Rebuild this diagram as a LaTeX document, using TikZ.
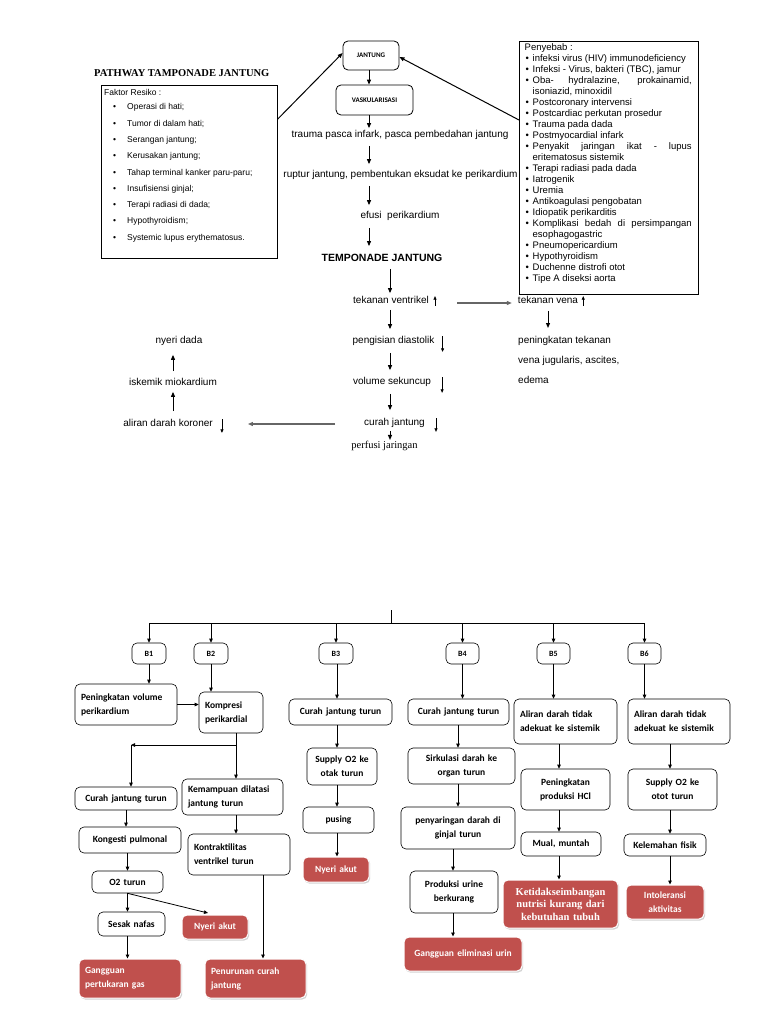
\documentclass[tikz,border=0pt]{standalone}
\usepackage{fontspec}
\setmainfont{Liberation Sans}
\newfontfamily\tmsfont{Liberation Serif}
\newfontfamily\calfont{Carlito}
\usetikzlibrary{arrows.meta,shadows,calc}
\definecolor{redbox}{HTML}{C0504D}
\newcommand\bx[7][wbox]{%
 \pgfmathsetmacro\bxw{#5-#3-12}%
 \pgfmathsetmacro\bxh{#6-#4}%
 \pgfmathsetmacro\bxx{(#3+#5)/2}%
 \pgfmathsetmacro\bxy{(#4+#6)/2}%
 \node[#1, text width=\bxw pt, minimum height=\bxh pt] (#2) at (\bxx,\bxy) {#7};}
\newcommand\fb{\hspace*{9pt}\makebox[14pt][l]{\textbullet}}
\newcommand\pb{\makebox[8pt][l]{\hspace{1pt}\textbullet}}
\newcommand\pc{\hspace*{8pt}}
\tikzset{
 tx/.style={inner sep=2pt, font=\fontsize{10}{12}\selectfont},
 tb/.style={draw, rounded corners=5pt, line width=0.8pt, inner sep=0pt, font=\calfont\bfseries\fontsize{7}{8}\selectfont},
 wbox/.style={draw, rounded corners=5pt, line width=0.6pt, fill=white, inner xsep=6pt, inner ysep=0pt, align=center, font=\calfont\bfseries\fontsize{9.5}{14}\selectfont},
 wboxl/.style={wbox, align=left},
 bbox/.style={wbox, font=\calfont\bfseries\fontsize{8}{10}\selectfont},
 rbox/.style={wbox, fill=redbox, draw=white, line width=1pt, text=white, drop shadow={opacity=0.35, shadow xshift=1.2pt, shadow yshift=-1.5pt}},
 rboxl/.style={rbox, align=left},
 rboxt/.style={rbox, font=\tmsfont\bfseries\fontsize{10.5}{12.5}\selectfont},
 arr/.style={line width=1pt, -{Triangle[length=5pt,width=4pt]}},
 garr/.style={line width=1.1pt, draw=black!60, -{Triangle[length=5pt,width=4pt]}},
 sarr/.style={line width=0.7pt, -{Triangle[length=3.5pt,width=3pt]}},
 barr/.style={line width=0.8pt, -{Triangle[length=4pt,width=3.5pt]}},
 bline/.style={line width=0.8pt}
}
\begin{document}
\begin{tikzpicture}[x=1pt,y=-1pt]
\fill[white] (0,0) rectangle (768,1024);
\useasboundingbox (0,0) rectangle (768,1024);

% ---------- top part ----------
\node[tx, anchor=base west, font=\tmsfont\bfseries\fontsize{10.5}{12}\selectfont] (ttl) at (92,77) {PATHWAY TAMPONADE JANTUNG};

\node[draw, line width=0.8pt, minimum width=176pt, minimum height=173pt, inner sep=0pt, anchor=north west] (fak) at (101,85) {};
\node[anchor=north west, inner sep=0pt, align=left, font=\fontsize{8.5}{16.3}\selectfont] (fakt) at (104,89.5) {Faktor Resiko :\\[-2.3pt]
\fb Operasi di hati;\\
\fb Tumor di dalam hati;\\
\fb Serangan jantung;\\
\fb Kerusakan jantung;\\
\fb Tahap terminal kanker paru-paru;\\
\fb Insufisiensi ginjal;\\
\fb Terapi radiasi di dada;\\
\fb Hypothyroidism;\\
\fb Systemic lupus erythematosus.};

\node[draw, line width=0.8pt, minimum width=179pt, minimum height=253pt, inner sep=0pt, anchor=north west] (pen) at (519,41) {};
\node[anchor=north west, inner sep=0pt, align=left, font=\fontsize{9.5}{11}\selectfont] (pent) at (524.5,43) {Penyebab :\\
\pb infeksi virus (HIV) immunodeficiency\\
\pb Infeksi - Virus, bakteri (TBC), jamur\\
\pb\makebox[159pt][s]{Oba- hydralazine, prokainamid,}\\
\pc isoniazid, minoxidil\\
\pb Postcoronary intervensi\\
\pb Postcardiac perkutan prosedur\\
\pb Trauma pada dada\\
\pb Postmyocardial infark\\
\pb\makebox[159pt][s]{Penyakit jaringan ikat - lupus}\\
\pc eritematosus sistemik\\
\pb Terapi radiasi pada dada\\
\pb Iatrogenik\\
\pb Uremia\\
\pb Antikoagulasi pengobatan\\
\pb Idiopatik perikarditis\\
\pb\makebox[159pt][s]{Komplikasi bedah di persimpangan}\\
\pc esophagogastric\\
\pb Pneumopericardium\\
\pb Hypothyroidism\\
\pb Duchenne distrofi otot\\
\pb Tipe A diseksi aorta};

\node[tb, minimum width=56pt, minimum height=29pt] (jt) at (371,55.5) {JANTUNG};
\node[tb, minimum width=77pt, minimum height=30pt] (vk) at (374.5,100) {VASKULARISASI};

\node[tx] (tr) at (400,135) {trauma pasca infark, pasca pembedahan jantung};
\node[tx] (ru) at (400.5,175) {ruptur jantung, pembentukan eksudat ke perikardium};
\node[tx] (ef) at (400,216) {efusi\ \ perikardium};
\node[tx, font=\bfseries\fontsize{10.5}{12}\selectfont] (tp) at (382,258) {TEMPONADE JANTUNG};
\node[tx] (tv) at (391,300) {tekanan ventrikel};
\node[tx] (tve) at (548,300) {tekanan vena};
\node[anchor=north west, inner sep=0pt, align=left, font=\fontsize{10}{20}\selectfont] (pt) at (518,336) {peningkatan tekanan\\vena jugularis, ascites,\\edema};
\node[tx] (pd) at (393.5,341) {pengisian diastolik};
\node[tx] (vs) at (392,382) {volume sekuncup};
\node[tx] (cj) at (394.5,423) {curah jantung};
\node[tx, font=\tmsfont\fontsize{10.5}{12}\selectfont] (pj) at (384.5,446) {perfusi jaringan};
\node[tx] (adk) at (168,423) {aliran darah koroner};
\node[tx] (ik) at (173,382) {iskemik miokardium};
\node[tx] (nd) at (179,341) {nyeri dada};

\coordinate (c1) at (369,0);
\coordinate (c2) at (390,0);
\coordinate (c3) at (173,0);

\draw[arr] ($(fak.north east)+(0,34)$) -- ($(jt.west)+(0,-2.5)$);
\draw[arr] ($(pen.north west)+(0,79)$) -- ($(jt.east)+(0,1.5)$);
\draw[arr] (jt.south -| c1) -- (vk.north -| c1);
\draw[arr] (vk.south -| c1) -- (tr.north -| c1);
\draw[arr] ($(tr.south -| c1)+(0,4)$) -- ($(ru.north -| c1)+(0,-4)$);
\draw[arr] ($(ru.south -| c1)+(0,4)$) -- ($(ef.north -| c1)+(0,-4)$);
\draw[arr] ($(ef.south -| c1)+(0,5)$) -- ($(tp.north -| c1)+(0,-6)$);
\draw[arr] ($(tp.south -| c2)+(0,5)$) -- ($(tv.north -| c2)+(0,-1)$);
\draw[arr] ($(tv.south -| c2)+(0,4)$) -- ($(pd.north -| c2)+(0,-5)$);
\draw[arr] ($(pd.south -| c2)+(0,5)$) -- ($(vs.north -| c2)+(0,-5)$);
\draw[arr] ($(vs.south -| c2)+(0,5)$) -- ($(cj.north -| c2)+(0,-6)$);
\draw[arr] ($(cj.south -| c2)+(0,1)$) -- ($(pj.north -| c2)+(0,1)$);

\draw[sarr] ([xshift=4pt]tv.south east) -- ([xshift=4pt,yshift=-2pt]tv.north east);
\draw[sarr] ([xshift=3pt]tve.south east) -- ([xshift=3pt,yshift=-2pt]tve.north east);
\draw[sarr] ([xshift=6pt,yshift=-2pt]pd.north east) -- ([xshift=6pt,yshift=-4pt]pd.south east);
\draw[sarr] ([xshift=9pt,yshift=-2pt]vs.north east) -- ([xshift=9pt,yshift=-4pt]vs.south east);
\draw[sarr] ([xshift=9pt,yshift=-2pt]cj.north east) -- ([xshift=9pt,yshift=-2pt]cj.south east);
\draw[sarr] ([xshift=7pt,yshift=-2pt]adk.north east) -- ([xshift=7pt,yshift=-4pt]adk.south east);

\draw[garr] ([xshift=26pt,yshift=-3pt]tv.east) -- ([xshift=-4pt,yshift=-3pt]tve.west);
\draw[garr] ([xshift=-27pt,yshift=-1pt]cj.west) -- ([xshift=33pt,yshift=-1pt]adk.east);
\draw[arr] ($(tve.south)+(0,5)$) -- ($(tve.south |- pt.north)+(0,-8)$);
\draw[arr] ($(adk.north -| c3)+(0,-6)$) -- ($(ik.south -| c3)+(0,4)$);
\draw[arr] ($(ik.north -| c3)+(0,-5)$) -- ($(nd.south -| c3)+(0,7)$);

% ---------- bottom part ----------
\bx[bbox]{b1}{132}{643}{166}{664}{B1}
\bx[bbox]{b2}{194}{643}{228}{664}{B2}
\bx[bbox]{b3}{319}{643}{353}{664}{B3}
\bx[bbox]{b4}{446}{643}{479}{664}{B4}
\bx[bbox]{b5}{537}{643}{570}{664}{B5}
\bx[bbox]{b6}{628}{643}{661}{664}{B6}

\bx[wboxl]{piv}{75}{684}{177}{725}{Peningkatan volume\\perikardium}
\bx[wboxl]{kp}{199}{692}{263}{733}{Kompresi\\perikardial}
\bx{cjt1}{75}{787}{177}{810}{Curah jantung turun}
\bx[wboxl]{kdj}{182}{779}{283}{815}{Kemampuan dilatasi\\jantung turun}
\bx{kong}{79}{827}{181}{853}{Kongesti pulmonal}
\bx{o2}{92}{871}{163}{893}{O2 turun}
\bx{ssk}{98}{912}{165}{936}{Sesak nafas}
\bx[rbox]{ny1}{182}{915}{248}{939}{Nyeri akut}
\bx[rboxl]{gpg}{79}{959}{181}{998}{Gangguan\\pertukaran gas}
\bx[wboxl]{kv}{188}{834}{290}{875}{Kontraktilitas\\ventrikel turun}
\bx[rboxl]{pcj}{205}{959}{306}{998}{Penurunan curah\\jantung}

\bx{cj3}{289}{699}{392}{725}{Curah jantung turun}
\bx{sup3}{307}{748}{377}{785}{Supply O2 ke\\otak turun}
\bx{pus}{303}{807}{374}{833}{pusing}
\bx[rbox]{ny3}{303}{857}{369}{882}{Nyeri akut}

\bx{cj4}{408}{699}{509}{725}{Curah jantung turun}
\bx{sir}{408}{748}{515}{784}{Sirkulasi darah ke\\organ turun}
\bx{pny}{401}{807}{515}{849}{penyaringan darah di\\ginjal turun}
\bx{pro}{410}{871}{498}{913}{Produksi urine\\berkurang}
\bx[rbox]{gel}{404}{937}{522}{971}{Gangguan eliminasi urin}

\bx[wboxl]{al5}{514}{699}{617}{744}{Aliran darah tidak\\adekuat ke sistemik}
\bx{hcl}{521}{769}{610}{810}{Peningkatan\\produksi HCl}
\bx{mm}{521}{832}{601}{856}{Mual, muntah}
\bx[rboxt]{ket}{503}{880}{618}{928}{Ketidakseimbangan\\nutrisi kurang dari\\kebutuhan tubuh}

\bx[wboxl]{al6}{628}{699}{730}{744}{Aliran darah tidak\\adekuat ke sistemik}
\bx{so6}{628}{769}{717}{810}{Supply O2 ke\\otot turun}
\bx{kf}{624}{834}{706}{856}{Kelemahan fisik}
\bx[rbox]{int}{626}{885}{704}{919}{Intoleransi\\aktivitas}

\coordinate (stub) at (391,610);
\coordinate (bus) at (0,623);
\draw[bline] (stub) -- (stub |- bus);
\draw[bline] (b1.north |- bus) -- (b6.north |- bus);
\foreach \b in {b1,b2,b3,b4,b5,b6} {\draw[barr] (\b.north |- bus) -- (\b.north);}

\draw[barr] (b1.south) -- (b1.south |- piv.north);
\draw[barr] (piv.east) -- (piv.east -| kp.west);
\draw[barr] (b2.south) -- (b2.south |- kp.north);
\coordinate (kx) at (236,745);
\coordinate (kl) at (131,745);
\draw[bline] (kp.south -| kx) -- (kx);
\draw[barr] (kx) -- (kl);
\draw[barr] (kl) -- (kl |- cjt1.north);
\draw[barr] (kx) -- (kx |- kdj.north);
\draw[barr] (cjt1.south) -- (cjt1.south |- kong.north);
\draw[barr] (kong.south -| o2.north) -- (o2.north);
\draw[barr] (o2.south) -- (o2.south |- ssk.north);
\draw[barr] (o2.south) -- ([xshift=-7pt,yshift=1.5pt]ny1.north);
\draw[barr] (ssk.south -| o2.south) -- (gpg.north -| o2.south);
\draw[barr] (kdj.south -| kx) -- (kv.north -| kx);
\coordinate (kv2) at (263,0);
\draw[barr] (kv.south -| kv2) -- (pcj.north -| kv2);

\coordinate (x3) at (337,0);
\draw[barr] (b3.south -| x3) -- (cj3.north -| x3);
\draw[barr] (cj3.south -| x3) -- (sup3.north -| x3);
\draw[barr] (sup3.south -| x3) -- (pus.north -| x3);
\draw[barr] (pus.south -| x3) -- (ny3.north -| x3);

\coordinate (x4) at (458,0);
\coordinate (x4b) at (453,0);
\draw[barr] (b4.south) -- (b4.south |- cj4.north);
\draw[barr] (cj4.south -| x4) -- (sir.north -| x4);
\draw[barr] (sir.south -| x4) -- (pny.north -| x4);
\draw[barr] (pny.south -| x4b) -- (pro.north -| x4b);
\draw[barr] (pro.south -| x4b) -- (gel.north -| x4b);

\coordinate (x5) at (559,0);
\draw[barr] (b5.south) -- (b5.south |- al5.north);
\draw[barr] (al5.south -| x5) -- (hcl.north -| x5);
\draw[barr] (hcl.south -| x5) -- (mm.north -| x5);
\draw[barr] (mm.south -| x5) -- (ket.north -| x5);

\coordinate (x6) at (670,0);
\draw[barr] (b6.south) -- (b6.south |- al6.north);
\draw[barr] (al6.south -| x6) -- (so6.north -| x6);
\draw[barr] (so6.south -| x6) -- (kf.north -| x6);
\draw[barr] (kf.south -| x6) -- (int.north -| x6);
\end{tikzpicture}
\end{document}
